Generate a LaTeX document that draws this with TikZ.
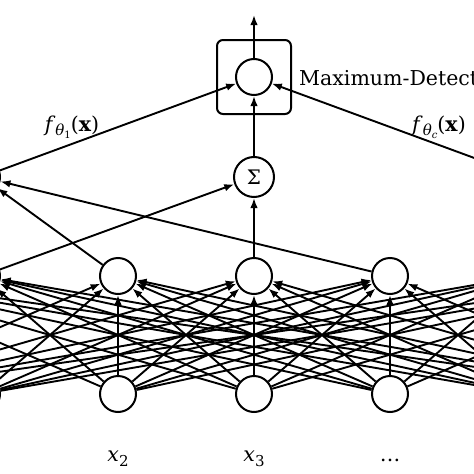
\documentclass[tikz,border=0pt]{standalone}
\usepackage{fontspec}
\setmainfont{DejaVu Serif}
\usetikzlibrary{arrows.meta}
\pgfdeclarelayer{bg}
\pgfsetlayers{bg,main}
\newcommand{\lowsub}[3]{\raisebox{-#2}{\fontsize{#1}{#1}\selectfont #3}}
\begin{document}
\begin{tikzpicture}[x=1pt,y=-1pt,
  neuron/.style={circle,draw,line width=2pt,fill=white,minimum size=36pt,inner sep=0pt},
  sumneuron/.style={neuron,minimum size=40pt,font=\fontsize{20}{22}\selectfont},
  conn/.style={line width=1.9pt,-{Latex[length=10pt,width=7.5pt]}},
  lbl/.style={font=\fontsize{20.5}{24}\selectfont,inner sep=0pt}]
\useasboundingbox (0,0) rectangle (474,474);
\clip (0,0) rectangle (474,474);
% input and hidden layers
\foreach \i/\x in {0/-154,1/-18,2/118,3/254,4/390,5/526,6/662} {
  \node[neuron] (h\i) at (\x,276) {};
  \node[neuron] (i\i) at (\x,394) {};
}
\begin{pgfonlayer}{bg}
\foreach \a in {0,...,6} {
  \foreach \b in {0,...,6} {
    \draw[conn] (i\a) -- (h\b);
  }
}
\end{pgfonlayer}
% output layer
\node[neuron] (L) at (-18,177) {};
\node[sumneuron] (S) at (254,177) {Σ};
\node[neuron] (R) at (526,177) {};
% maximum detector
\node[draw,line width=2pt,rounded corners=6pt,minimum size=74pt,inner sep=0pt] (box) at (254,77) {};
\node[neuron] (M) at (254,77) {};
\coordinate (top) at (254,15);
\draw[conn] (h2) -- (L);
\draw[conn] (h4) -- (L);
\draw[conn] (h1) -- (S);
\draw[conn] (h3) -- (S);
\draw[conn] (L) -- (M);
\draw[conn] (S) -- (M);
\draw[conn] (R) -- (M);
\draw[conn] (M) -- (top);
% labels
\node[lbl,anchor=west] (mdl) at (299,78) {Maximum-Detector};
\node[lbl] (f1) at (72,127) {\textit{f}\lowsub{15}{4.5pt}{\textit{θ}\lowsub{10}{2.5pt}{1}}(\textbf{x})};
\node[lbl] (fc) at (439,127) {\textit{f}\lowsub{15}{4.5pt}{\textit{θ}\lowsub{10}{2.5pt}{\textit{c}}}(\textbf{x})};
\node[lbl,anchor=base] (x2) at (118,461) {\textit{x}\lowsub{15}{5pt}{2}};
\node[lbl,anchor=base] (x3) at (254,461) {\textit{x}\lowsub{15}{5pt}{3}};
\node[lbl,anchor=base] (xd) at (390,461) {…};
\end{tikzpicture}
\end{document}
